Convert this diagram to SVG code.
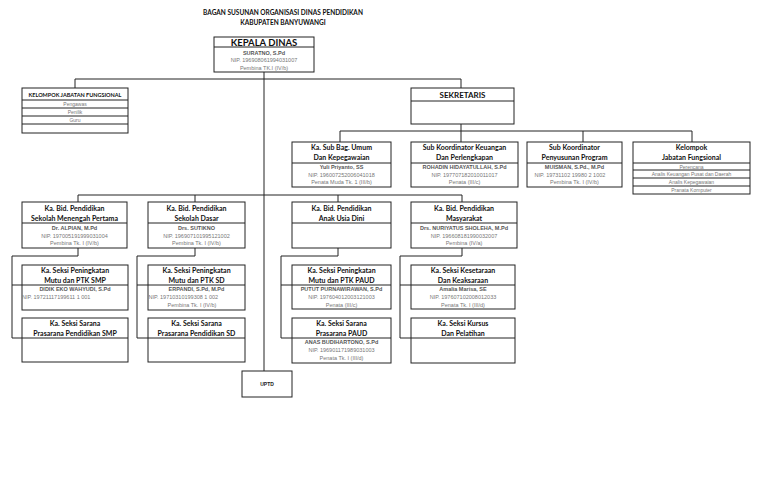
<svg xmlns="http://www.w3.org/2000/svg" width="768" height="503" viewBox="0 0 768 503">
<style>
.bx{fill:#fff;stroke:#222;stroke-width:1}
.ln{stroke:#222;stroke-width:1;fill:none}
.h{font-family:Lato,"Open Sans",sans-serif;font-weight:bold;font-size:7px;fill:#111;text-anchor:middle}
.n{font-family:"Liberation Sans",Arial,sans-serif;font-weight:bold;font-size:5.5px;fill:#555;text-anchor:middle}
.s{font-family:"Liberation Sans",Arial,sans-serif;font-size:5.5px;fill:#777;text-anchor:middle}
.ttl{font-family:Lato,"Open Sans",sans-serif;font-weight:bold;font-size:6.5px;fill:#111;text-anchor:middle}
</style>
<rect width="768" height="503" fill="#fff"/>
<text class="ttl" x="283" y="15">BAGAN SUSUNAN ORGANISASI DINAS PENDIDIKAN</text>
<text class="ttl" x="283" y="25">KABUPATEN BANYUWANGI</text>

<g id="connectors">
<path class="ln" d="M264 72V371"/>
<path class="ln" d="M75 79H461M75 79V88M461 79V88"/>
<path class="ln" d="M461 124V142M340 131H692M340 131V142M583 131V142M692 131V142"/>
<path class="ln" d="M78 195H462M78 195V202M195 195V202M338 195V202M462 195V202"/>
<path class="ln" d="M78 248V256H12V338H22M12 285H22"/>
<path class="ln" d="M195 248V256H137V338H148M137 285H148"/>
<path class="ln" d="M338 248V256H281V338H292M281 285H292"/>
<path class="ln" d="M462 248V256H400V338H411M400 285H411"/>
</g>

<g id="kepala">
<rect class="bx" x="214" y="37" width="100" height="35"/>
<path class="ln" d="M214 47H314"/>
<text class="h" x="264" y="45.5" style="font-size:9.5px">KEPALA DINAS</text>
<text class="n" x="264" y="54.5">SURATNO, S.Pd</text>
<text class="s" x="264" y="62">NIP. 196908061994031007</text>
<text class="s" x="264" y="69.5">Pembina TK.I (IV/b)</text>
</g>

<g id="kelompok-kiri">
<rect class="bx" x="22" y="88" width="106" height="45"/>
<path class="ln" d="M22 100H128M22 108H128M22 116H128M22 124H128"/>
<text class="h" x="75" y="97" style="font-size:5.5px">KELOMPOK JABATAN FUNGSIONAL</text>
<text class="s" x="75" y="106" style="font-size:5px">Pengawas</text>
<text class="s" x="75" y="114" style="font-size:5px">Penilik</text>
<text class="s" x="75" y="122" style="font-size:5px">Guru</text>
</g>

<g id="sekretaris">
<rect class="bx" x="411" y="88" width="103" height="36"/>
<path class="ln" d="M411 101H514"/>
<text class="h" x="462.5" y="98" style="font-size:8px">SEKRETARIS</text>
</g>

<g id="subbag-umum">
<rect class="bx" x="292" y="142" width="99" height="45"/>
<path class="ln" d="M292 163H391"/>
<text class="h" x="341.5" y="150">Ka. Sub Bag. Umum</text>
<text class="h" x="341.5" y="160">Dan Kepegawaian</text>
<text class="n" x="341.5" y="169">Yuli Priyanto, SS</text>
<text class="s" x="341.5" y="176.5">NIP. 196007252006041018</text>
<text class="s" x="341.5" y="184">Penata Muda Tk. 1 (III/b)</text>
</g>

<g id="subkoor-keuangan">
<rect class="bx" x="411" y="142" width="107" height="45"/>
<path class="ln" d="M411 163H518"/>
<text class="h" x="464.5" y="150">Sub Koordinator Keuangan</text>
<text class="h" x="464.5" y="160">Dan Perlengkapan</text>
<text class="n" x="464.5" y="169">ROHADIN HIDAYATULLAH, S.Pd</text>
<text class="s" x="464.5" y="176.5">NIP. 197707182010011017</text>
<text class="s" x="464.5" y="184">Penata (III/c)</text>
</g>

<g id="subkoor-program">
<rect class="bx" x="527" y="142" width="95" height="45"/>
<path class="ln" d="M527 163H622"/>
<text class="h" x="574.5" y="150">Sub Koordinator</text>
<text class="h" x="574.5" y="160">Penyusunan Program</text>
<text class="n" x="574.5" y="169">MUISMAN, S.Pd., M.Pd</text>
<text class="s" x="570" y="176.5">NIP. 19731102 19980 2 1002</text>
<text class="s" x="574.5" y="184">Pembina Tk. I (IV/b)</text>
</g>

<g id="kelompok-kanan">
<rect class="bx" x="633" y="142" width="117" height="52"/>
<path class="ln" d="M633 163H750M633 170H750M633 178H750M633 186H750"/>
<text class="h" x="691.5" y="150">Kelompok</text>
<text class="h" x="691.5" y="160">Jabatan Fungsional</text>
<text class="s" x="691.5" y="168.5" style="font-size:5px">Perencana</text>
<text class="s" x="691.5" y="176" style="font-size:5px">Analis Keuangan Pusat dan Daerah</text>
<text class="s" x="691.5" y="184" style="font-size:5px">Analis Kepegawaian</text>
<text class="s" x="691.5" y="192" style="font-size:5px">Pranata Komputer</text>
</g>

<g id="bid-smp">
<rect class="bx" x="22" y="202" width="105" height="46"/>
<path class="ln" d="M22 223H127"/>
<text class="h" x="74.5" y="210.5">Ka. Bid. Pendidikan</text>
<text class="h" x="74.5" y="220.5">Sekolah Menengah Pertama</text>
<text class="n" x="74.5" y="229.5">Dr. ALPIAN, M.Pd</text>
<text class="s" x="74.5" y="237.5">NIP. 197005191999031004</text>
<text class="s" x="74.5" y="245">Pembina Tk. I (IV/b)</text>
</g>

<g id="bid-sd">
<rect class="bx" x="148" y="202" width="97" height="46"/>
<path class="ln" d="M148 223H245"/>
<text class="h" x="196.5" y="210.5">Ka. Bid. Pendidikan</text>
<text class="h" x="196.5" y="220.5">Sekolah Dasar</text>
<text class="n" x="196.5" y="229.5">Drs. SUTIKNO</text>
<text class="s" x="196.5" y="237.5">NIP. 196907101995121002</text>
<text class="s" x="196.5" y="245">Pembina Tk. I (IV/b)</text>
</g>

<g id="bid-paud">
<rect class="bx" x="292" y="202" width="99" height="46"/>
<path class="ln" d="M292 223H391"/>
<text class="h" x="341.5" y="210.5">Ka. Bid. Pendidikan</text>
<text class="h" x="341.5" y="220.5">Anak Usia Dini</text>
</g>

<g id="bid-masyarakat">
<rect class="bx" x="411" y="202" width="106" height="46"/>
<path class="ln" d="M411 223H517"/>
<text class="h" x="464" y="210.5">Ka. Bid. Pendidikan</text>
<text class="h" x="464" y="220.5">Masyarakat</text>
<text class="n" x="464" y="229.5">Drs. NURIYATUS SHOLEHA, M.Pd</text>
<text class="s" x="464" y="237.5">NIP. 196608181990032007</text>
<text class="s" x="464" y="245">Pembina (IV/a)</text>
</g>

<g id="seksi-mutu-smp">
<rect class="bx" x="22" y="265" width="106" height="45"/>
<path class="ln" d="M22 285H128"/>
<text class="h" x="75" y="272.5">Ka. Seksi Peningkatan</text>
<text class="h" x="75" y="282.5">Mutu dan PTK SMP</text>
<text class="n" x="75" y="291">DIDIK EKO WAHYUDI, S.Pd</text>
<text class="s" x="22" y="299" style="text-anchor:start">NIP. 19721117199611 1 001</text>
</g>

<g id="seksi-mutu-sd">
<rect class="bx" x="148" y="265" width="97" height="45"/>
<path class="ln" d="M148 285H245"/>
<text class="h" x="196.5" y="272.5">Ka. Seksi Peningkatan</text>
<text class="h" x="196.5" y="282.5">Mutu dan PTK SD</text>
<text class="n" x="196.5" y="291">ERPANDI, S.Pd, M.Pd</text>
<text class="s" x="148.5" y="299" style="text-anchor:start">NIP. 19710310199308 1 002</text>
<text class="s" x="192" y="307">Pembina Tk. I (IV/b)</text>
</g>

<g id="seksi-mutu-paud">
<rect class="bx" x="292" y="265" width="99" height="44"/>
<path class="ln" d="M292 285H391"/>
<text class="h" x="341.5" y="272.5">Ka. Seksi Peningkatan</text>
<text class="h" x="341.5" y="282.5">Mutu dan PTK PAUD</text>
<text class="n" x="341.5" y="291">PUTUT PURNAWIRAWAN, S.Pd</text>
<text class="s" x="341.5" y="299">NIP. 197604012003121003</text>
<text class="s" x="341.5" y="306.5">Penata (III/c)</text>
</g>

<g id="seksi-kesetaraan">
<rect class="bx" x="411" y="265" width="104" height="44"/>
<path class="ln" d="M411 285H515"/>
<text class="h" x="463" y="272.5">Ka. Seksi Kesetaraan</text>
<text class="h" x="463" y="282.5">Dan Keaksaraan</text>
<text class="n" x="463" y="291">Amalia Marisa, SE</text>
<text class="s" x="463" y="299">NIP. 197607102008012033</text>
<text class="s" x="463" y="306.5">Penata Tk. I (III/d)</text>
</g>

<g id="seksi-sarana-smp">
<rect class="bx" x="22" y="318" width="106" height="44"/>
<path class="ln" d="M22 338H128"/>
<text class="h" x="75" y="325.5">Ka. Seksi Sarana</text>
<text class="h" x="75" y="335.5">Prasarana Pendidikan SMP</text>
</g>

<g id="seksi-sarana-sd">
<rect class="bx" x="148" y="318" width="97" height="44"/>
<path class="ln" d="M148 338H245"/>
<text class="h" x="196.5" y="325.5">Ka. Seksi Sarana</text>
<text class="h" x="196.5" y="335.5">Prasarana Pendidikan SD</text>
</g>

<g id="seksi-sarana-paud">
<rect class="bx" x="292" y="318" width="99" height="45"/>
<path class="ln" d="M292 338H391"/>
<text class="h" x="341.5" y="325.5">Ka. Seksi Sarana</text>
<text class="h" x="341.5" y="335.5">Prasarana PAUD</text>
<text class="n" x="341.5" y="344">ANAS BUDIHARTONO, S.Pd</text>
<text class="s" x="341.5" y="352">NIP. 196901171989031003</text>
<text class="s" x="341.5" y="360">Penata Tk. I (III/d)</text>
</g>

<g id="seksi-kursus">
<rect class="bx" x="411" y="318" width="104" height="45"/>
<path class="ln" d="M411 338H515"/>
<text class="h" x="463" y="325.5">Ka. Seksi Kursus</text>
<text class="h" x="463" y="335.5">Dan Pelatihan</text>
</g>

<g id="uptd">
<rect class="bx" x="242" y="371" width="50" height="26"/>
<text class="n" x="267" y="386" style="font-size:5px;fill:#222">UPTD</text>
</g>
</svg>
